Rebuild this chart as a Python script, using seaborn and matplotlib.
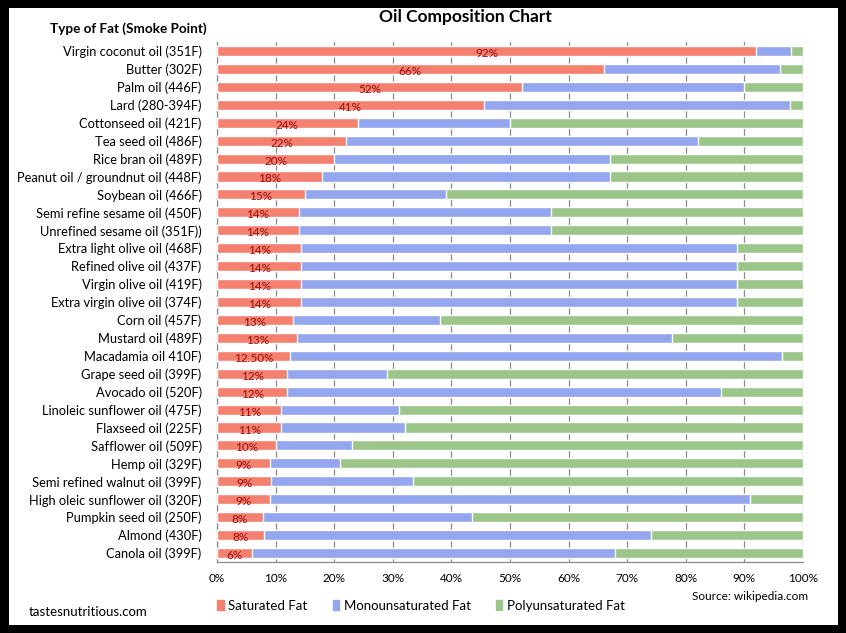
import matplotlib.pyplot as plt
import matplotlib.patches as mpatches
from matplotlib.ticker import FixedLocator, PercentFormatter
import seaborn as sns
import pandas as pd

# Data (100% stacked, values in percent)
oils = ['Virgin coconut oil (351F)', 'Butter (302F)', 'Palm oil (446F)', 'Lard (280-394F)',
        'Cottonseed oil (421F)', 'Tea seed oil (486F)', 'Rice bran oil (489F)',
        'Peanut oil / groundnut oil (448F)', 'Soybean oil (466F)', 'Semi refine sesame oil (450F)',
        'Unrefined sesame oil (351F))', 'Extra light olive oil (468F)', 'Refined olive oil (437F)',
        'Virgin olive oil (419F)', 'Extra virgin olive oil (374F)', 'Corn oil (457F)',
        'Mustard oil (489F)', 'Macadamia oil 410F)', 'Grape seed oil (399F)', 'Avocado oil (520F)',
        'Linoleic sunflower oil (475F)', 'Flaxseed oil (225F)', 'Safflower oil (509F)',
        'Hemp oil (329F)', 'Semi refined walnut oil (399F)', 'High oleic sunflower oil (320F)',
        'Pumpkin seed oil (250F)', 'Almond (430F)', 'Canola oil (399F)']
saturated = [92, 66, 52, 45.5, 24, 22, 20, 18, 15, 14, 14, 14.4, 14.4, 14.4, 14.4, 13, 13.7,
             12.4, 12, 12, 11, 11, 10, 9, 9.3, 9, 7.8, 8, 6]
monounsaturated = [6, 30, 38, 52.3, 26, 60, 47, 49, 24, 43, 43, 74.3, 74.3, 74.3, 74.3, 25, 63.9,
                   84, 17, 74, 20, 21, 13, 12, 24.2, 82, 35.7, 66, 62]
polyunsaturated = [2, 4, 10, 2.2, 50, 18, 33, 33, 61, 43, 43, 11.3, 11.3, 11.3, 11.3, 62, 22.4,
                   3.6, 71, 14, 69, 68, 77, 79, 66.5, 9, 56.5, 26, 32]
sat_labels = ['92%', '66%', '52%', '41%', '24%', '22%', '20%', '18%', '15%', '14%', '14%', '14%',
              '14%', '14%', '14%', '13%', '13%', '12.50%', '12%', '12%', '11%', '11%', '10%',
              '9%', '9%', '9%', '8%', '8%', '6%']

df = pd.DataFrame({'oil': oils, 'sat': saturated, 'mono': monounsaturated, 'poly': polyunsaturated})
df['sat_mono'] = df['sat'] + df['mono']
df['total'] = df['sat_mono'] + df['poly']

c_sat, c_mono, c_poly = '#F4806F', '#94A6EE', '#9CC58A'

sns.set_style('white')
plt.rcParams['font.family'] = ['Lato', 'DejaVu Sans']
plt.rcParams['text.color'] = 'black'

fig = plt.figure(figsize=(8.46, 6.33), dpi=100, facecolor='black')
# white card inside the black frame
fig.patches.append(mpatches.Rectangle((9 / 846, 8 / 633), 829 / 846, 617 / 633,
                                      transform=fig.transFigure, facecolor='white',
                                      edgecolor='none', zorder=-5))
ax = fig.add_axes([217 / 846, 1 - 562 / 633, 586 / 846, 520 / 633])
ax.set_facecolor('white')

# stacked bars: draw cumulative totals back to front
sns.barplot(data=df, y='oil', x='total', color=c_poly, width=0.56, ax=ax, saturation=1, zorder=3)
sns.barplot(data=df, y='oil', x='sat_mono', color=c_mono, width=0.56, ax=ax, saturation=1, zorder=3)
sns.barplot(data=df, y='oil', x='sat', color=c_sat, width=0.56, ax=ax, saturation=1, zorder=3)

for i, (s, lab) in enumerate(zip(saturated, sat_labels)):
    ax.text(s / 2, i + 0.14, lab, ha='center', va='center', fontsize=8.5, color='#9A0A0A', zorder=4)

ax.set_xlim(0, 100)
ax.set_ylim(28.5, -0.5)
ax.xaxis.set_major_locator(FixedLocator(range(0, 101, 10)))
ax.xaxis.set_major_formatter(PercentFormatter(decimals=0))
ax.grid(axis='x', color='#8C8C8C', linewidth=0.9, zorder=0)
ax.set_axisbelow(True)

ax.set_xlabel('')
ax.set_ylabel('')
for side in ['top', 'right']:
    ax.spines[side].set_visible(False)
for side in ['left', 'bottom']:
    ax.spines[side].set_color('#8C8C8C')
    ax.spines[side].set_linewidth(0.9)

ax.tick_params(axis='y', length=0, labelsize=9.3, pad=11, labelcolor='black')
ax.yaxis.set_minor_locator(FixedLocator([i + 0.5 for i in range(-1, 29)]))
ax.tick_params(axis='y', which='minor', length=4, color='#8C8C8C', width=0.9, direction='out')
ax.tick_params(axis='x', length=4, color='#8C8C8C', width=0.9, labelsize=8.5, pad=4,
               direction='out', labelcolor='black')

fig.text(465 / 846, 1 - 17 / 633, 'Oil Composition Chart', ha='center', va='center',
         fontsize=12.5, fontweight='bold')
fig.text(207 / 846, 1 - 29 / 633, 'Type of Fat (Smoke Point)', ha='right', va='center',
         fontsize=9.7, fontweight='bold')
fig.text(808 / 846, 1 - 596 / 633, 'Source: wikipedia.com', ha='right', va='center', fontsize=8.5)
fig.text(29 / 846, 1 - 612 / 633, 'tastesnutritious.com', ha='left', va='center', fontsize=9.5)

handles = [mpatches.Patch(color=c, label=l) for c, l in
           [(c_sat, 'Saturated Fat'), (c_mono, 'Monounsaturated Fat'), (c_poly, 'Polyunsaturated Fat')]]
fig.legend(handles=handles, loc='center', bbox_to_anchor=(421 / 846, 1 - 606 / 633), ncol=3,
           frameon=False, fontsize=9.5, handlelength=0.5, handleheight=0.8, handletextpad=0.35,
           columnspacing=1.9)

fig.savefig('out.png', dpi=100, facecolor='black')
